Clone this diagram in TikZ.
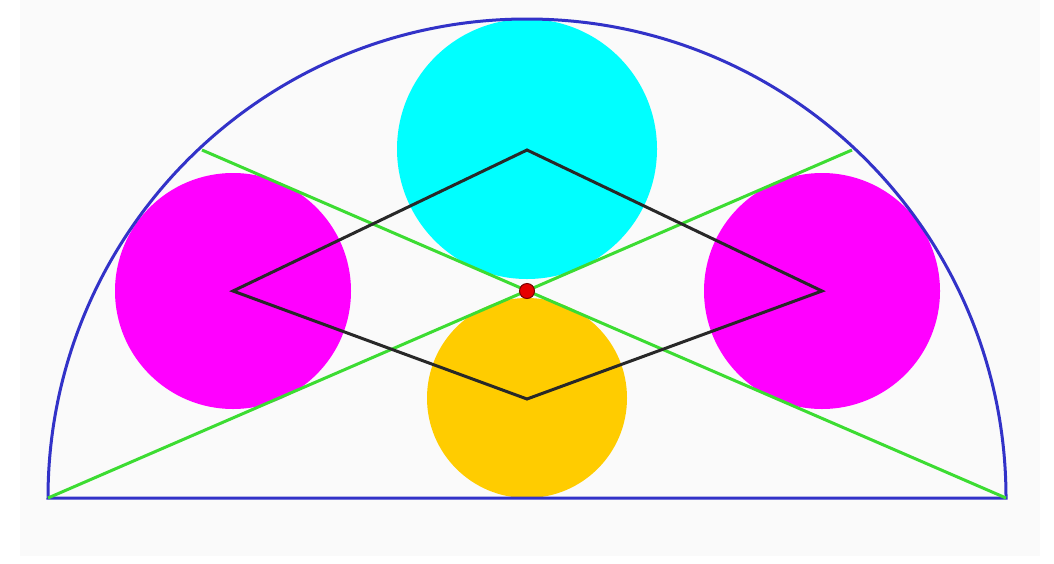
\documentclass[tikz,border=0pt]{standalone}
\definecolor{bgc}{RGB}{250,250,250}
\definecolor{bluec}{RGB}{50,50,200}
\definecolor{greenc}{RGB}{60,220,50}
\definecolor{darkc}{RGB}{40,40,40}
\definecolor{cyanc}{RGB}{0,255,255}
\definecolor{goldc}{RGB}{255,204,0}
\definecolor{magc}{RGB}{255,0,255}
\definecolor{redc}{RGB}{230,0,0}
\definecolor{redd}{RGB}{120,0,0}
\begin{document}
\begin{tikzpicture}[x=1pt,y=-1pt,
  blueline/.style={draw=bluec,line width=3pt},
  greenline/.style={draw=greenc,line width=3pt},
  rhomb/.style={draw=darkc,line width=3pt,line join=miter},
  disc/.style={circle,inner sep=0pt,draw=none}]
\fill[white] (0,0) rectangle (1054,563);
\fill[bgc] (20,0) rectangle (1040,556);
\useasboundingbox (0,0) rectangle (1054,563);
% discs
\node[disc,fill=cyanc,minimum size=260pt] (cy) at (527,149) {};
\node[disc,fill=goldc,minimum size=200pt] (ye) at (527,398) {};
\node[disc,fill=magc,minimum size=236pt] (ml) at (233,291) {};
\node[disc,fill=magc,minimum size=236pt] (mr) at (822,291) {};
% semicircle
\coordinate (A) at (48,498);
\coordinate (B) at (1006,498);
\draw[blueline] (A) arc[start angle=180,end angle=360,radius=479] -- cycle;
% green lines
\coordinate (P) at (852,150);
\coordinate (Q) at (202,150);
\draw[greenline] (A) -- (P);
\draw[greenline] (B) -- (Q);
% rhombus
\coordinate (rt) at (527,150);
\coordinate (rr) at (822,291);
\coordinate (rb) at (527,399);
\coordinate (rl) at (233,291);
\draw[rhomb] (rt) -- (rr) -- (rb) -- (rl) -- cycle;
% red dot
\node[circle,inner sep=0pt,minimum size=15pt,fill=redc,draw=redd,line width=1pt] (dot) at (527,291) {};
\end{tikzpicture}
\end{document}
